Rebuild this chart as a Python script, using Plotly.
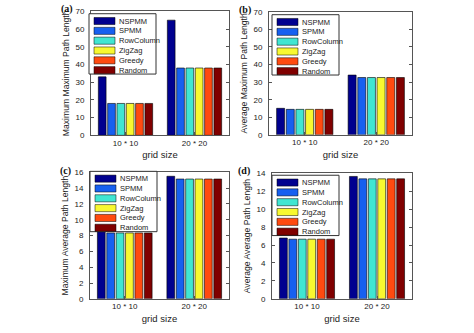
import plotly.graph_objects as go

W, H = 474, 333

categories = ["10 * 10", "20 * 20"]
series_names = ["NSPMM", "SPMM", "RowColumn", "ZigZag", "Greedy", "Random"]
series_colors = ["#00008F", "#1760F0", "#40E6D2", "#F8F830", "#FF4A10", "#800000"]

# values per panel: one list per series, [10*10, 20*20]
panel_a = [[33, 65], [18, 38], [18, 38], [18, 38], [18, 38], [18, 38]]
panel_b = [[15.1, 34.0], [14.5, 32.6], [14.5, 32.6], [14.5, 32.6], [14.5, 32.6], [14.5, 32.6]]
panel_c = [[8.5, 15.5], [8.33, 15.15], [8.33, 15.15], [8.33, 15.15], [8.33, 15.15], [8.33, 15.15]]
panel_d = [[6.78, 13.65], [6.65, 13.38], [6.65, 13.38], [6.65, 13.38], [6.65, 13.38], [6.65, 13.38]]

panels = [panel_a, panel_b, panel_c, panel_d]
y_titles = ["Maximum Maximum Path Length", "Average Maximum Path Length",
            "Maximum Average Path Length", "Average Average Path Length"]
y_ranges = [[0, 70], [0, 70], [0, 16], [0, 14]]
y_dticks = [10, 10, 2, 2]
panel_labels = ["(a)", "(b)", "(c)", "(d)"]

# axes boxes in pixels (left, right, top, bottom)
boxes = [(91, 229, 7.5, 135), (269, 412, 8, 134.5), (90, 229, 173, 303), (272, 412, 174, 303)]
legend_pos = [(89, 10), (272, 11), (90, 172), (272, 176)]
label_pos = [(67, 5), (245, 6), (65, 172), (244, 172)]

def px(x):
    return x / W

def py(y):
    return 1 - y / H

fig = go.Figure()
axis_color = "#555555"
font_main = "Liberation Sans"

for p, data in enumerate(panels):
    sfx = "" if p == 0 else str(p + 1)
    for i, name in enumerate(series_names):
        fig.add_trace(go.Bar(
            x=categories, y=data[i], name=name,
            marker=dict(color=series_colors[i], line=dict(color="#000000", width=0.6)),
            xaxis="x" + sfx, yaxis="y" + sfx, showlegend=False,
            offsetgroup=str(i),
        ))
    l, r, t, b = boxes[p]
    fig.layout["xaxis" + sfx] = dict(
        domain=[px(l), px(r)], anchor="y" + sfx, type="category", range=[-0.5, 1.5],
        showline=True, linecolor=axis_color, linewidth=1, mirror=True,
        ticks="inside", ticklen=3, tickcolor=axis_color,
        tickfont=dict(size=8, color="#222222", family=font_main),
        title=dict(text="grid size", font=dict(size=9.5, color="#222222", family=font_main), standoff=4),
        showgrid=False, zeroline=False, fixedrange=True,
    )
    fig.layout["yaxis" + sfx] = dict(
        domain=[py(b), py(t)], anchor="x" + sfx, range=y_ranges[p], dtick=y_dticks[p],
        showline=True, linecolor=axis_color, linewidth=1, mirror="ticks",
        ticks="inside", ticklen=3, tickcolor=axis_color,
        tickfont=dict(size=8, color="#222222", family=font_main),
        ticklabelstandoff=4,
        title=dict(text=y_titles[p], font=dict(size=8.6, color="#222222", family=font_main), standoff=4),
        showgrid=False, zeroline=False, fixedrange=True,
    )

shapes = []
annotations = []
leg_w, leg_h = 67, 62
sw_x0, sw_x1, sw_h = 5, 26, 7.3
row0, row_step = 7.5, 10.1
for p in range(4):
    lx, ly = legend_pos[p]
    shapes.append(dict(type="rect", xref="paper", yref="paper",
                       x0=px(lx), x1=px(lx + leg_w), y0=py(ly + leg_h), y1=py(ly),
                       line=dict(color="#333333", width=1), fillcolor="white", layer="above"))
    for i, name in enumerate(series_names):
        cy = ly + row0 + i * row_step
        shapes.append(dict(type="rect", xref="paper", yref="paper",
                           x0=px(lx + sw_x0), x1=px(lx + sw_x1),
                           y0=py(cy + sw_h / 2), y1=py(cy - sw_h / 2),
                           line=dict(color="#000000", width=0.5),
                           fillcolor=series_colors[i], layer="above"))
        annotations.append(dict(xref="paper", yref="paper", x=px(lx + sw_x1 + 2), y=py(cy),
                                text=name, showarrow=False, xanchor="left", yanchor="middle",
                                font=dict(size=7.5, color="#222222", family=font_main)))
    lxp, lyp = label_pos[p]
    annotations.append(dict(xref="paper", yref="paper", x=px(lxp), y=py(lyp),
                            text="<b>" + panel_labels[p] + "</b>", showarrow=False,
                            xanchor="center", yanchor="middle",
                            font=dict(size=10, color="#111111", family="Liberation Serif")))

fig.update_layout(
    width=W, height=H, margin=dict(l=0, r=0, t=0, b=0),
    paper_bgcolor="white", plot_bgcolor="white",
    barmode="group", bargap=0.19, bargroupgap=0.17,
    shapes=shapes, annotations=annotations, showlegend=False,
)

fig.write_html("out.html", config={"displayModeBar": False})
